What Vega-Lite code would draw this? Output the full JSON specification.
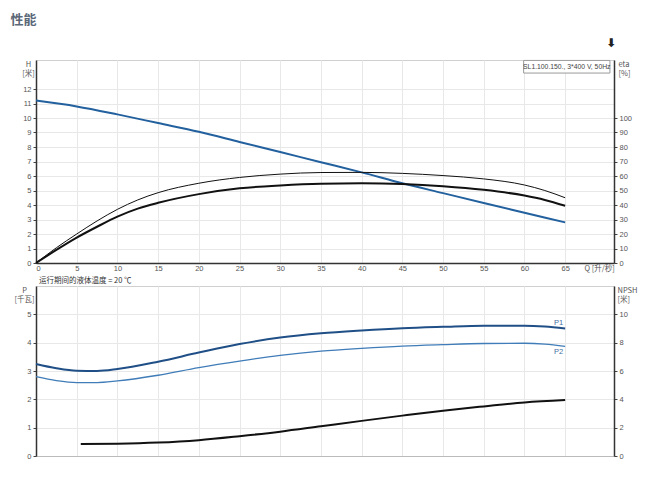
{
  "$schema": "https://vega.github.io/schema/vega-lite/v6.json",
  "background": "white",
  "padding": {"left": 10, "top": 14, "right": 5, "bottom": 5},
  "title": {"text": "性能", "anchor": "start", "dx": -3, "font": "Noto Sans CJK SC", "fontSize": 13, "fontWeight": "bold", "color": "#5b6878", "offset": 9},
  "spacing": 4,
  "config": {
    "view": {"stroke": "#d0d0d0", "strokeWidth": 1},
    "axis": {"labelFont": "Liberation Sans", "labelFontSize": 7.5, "labelColor": "#555", "tickColor": "#444", "domainColor": "#333", "domainWidth": 1.5, "gridColor": "#e8e8e8", "tickSize": 3, "labelPadding": 2, "titleFont": "Noto Sans CJK SC", "titleFontSize": 7.5, "titleFontWeight": "normal", "titleColor": "#555"}
  },
  "datasets": {
    "curves": [
      {"s": "H", "q": 0, "v": 11.2}, {"s": "H", "q": 5, "v": 10.8}, {"s": "H", "q": 10, "v": 10.25}, {"s": "H", "q": 15, "v": 9.65}, {"s": "H", "q": 20, "v": 9.05}, {"s": "H", "q": 25, "v": 8.35}, {"s": "H", "q": 30, "v": 7.65}, {"s": "H", "q": 35, "v": 6.95}, {"s": "H", "q": 40, "v": 6.25}, {"s": "H", "q": 45, "v": 5.5}, {"s": "H", "q": 50, "v": 4.82}, {"s": "H", "q": 55, "v": 4.14}, {"s": "H", "q": 60, "v": 3.47}, {"s": "H", "q": 65, "v": 2.8},
      {"s": "eta1", "q": 0, "v": 0}, {"s": "eta1", "q": 2.5, "v": 10.5}, {"s": "eta1", "q": 5, "v": 20}, {"s": "eta1", "q": 7.5, "v": 29}, {"s": "eta1", "q": 10, "v": 37}, {"s": "eta1", "q": 12.5, "v": 43.5}, {"s": "eta1", "q": 15, "v": 48.5}, {"s": "eta1", "q": 20, "v": 55}, {"s": "eta1", "q": 25, "v": 59}, {"s": "eta1", "q": 30, "v": 61.3}, {"s": "eta1", "q": 35, "v": 62.4}, {"s": "eta1", "q": 40, "v": 62.5}, {"s": "eta1", "q": 45, "v": 61.8}, {"s": "eta1", "q": 50, "v": 60.3}, {"s": "eta1", "q": 55, "v": 58}, {"s": "eta1", "q": 60, "v": 53.8}, {"s": "eta1", "q": 62.5, "v": 50}, {"s": "eta1", "q": 65, "v": 45},
      {"s": "eta2", "q": 0, "v": 0}, {"s": "eta2", "q": 2.5, "v": 9}, {"s": "eta2", "q": 5, "v": 17.5}, {"s": "eta2", "q": 7.5, "v": 25}, {"s": "eta2", "q": 10, "v": 32}, {"s": "eta2", "q": 12.5, "v": 37.5}, {"s": "eta2", "q": 15, "v": 41.5}, {"s": "eta2", "q": 20, "v": 47.5}, {"s": "eta2", "q": 25, "v": 51.5}, {"s": "eta2", "q": 30, "v": 53.5}, {"s": "eta2", "q": 35, "v": 54.7}, {"s": "eta2", "q": 40, "v": 55}, {"s": "eta2", "q": 45, "v": 54.5}, {"s": "eta2", "q": 50, "v": 53}, {"s": "eta2", "q": 55, "v": 50.5}, {"s": "eta2", "q": 60, "v": 46.5}, {"s": "eta2", "q": 62.5, "v": 43.5}, {"s": "eta2", "q": 65, "v": 39.5},
      {"s": "P1", "q": 0, "v": 3.25}, {"s": "P1", "q": 2.5, "v": 3.1}, {"s": "P1", "q": 5, "v": 3.01}, {"s": "P1", "q": 7.5, "v": 3.0}, {"s": "P1", "q": 10, "v": 3.07}, {"s": "P1", "q": 15, "v": 3.33}, {"s": "P1", "q": 20, "v": 3.65}, {"s": "P1", "q": 25, "v": 3.95}, {"s": "P1", "q": 30, "v": 4.18}, {"s": "P1", "q": 35, "v": 4.33}, {"s": "P1", "q": 40, "v": 4.43}, {"s": "P1", "q": 45, "v": 4.51}, {"s": "P1", "q": 50, "v": 4.56}, {"s": "P1", "q": 55, "v": 4.6}, {"s": "P1", "q": 60, "v": 4.6}, {"s": "P1", "q": 62.5, "v": 4.57}, {"s": "P1", "q": 65, "v": 4.5},
      {"s": "P2", "q": 0, "v": 2.8}, {"s": "P2", "q": 2.5, "v": 2.66}, {"s": "P2", "q": 5, "v": 2.59}, {"s": "P2", "q": 7.5, "v": 2.59}, {"s": "P2", "q": 10, "v": 2.65}, {"s": "P2", "q": 15, "v": 2.85}, {"s": "P2", "q": 20, "v": 3.12}, {"s": "P2", "q": 25, "v": 3.35}, {"s": "P2", "q": 30, "v": 3.55}, {"s": "P2", "q": 35, "v": 3.7}, {"s": "P2", "q": 40, "v": 3.8}, {"s": "P2", "q": 45, "v": 3.88}, {"s": "P2", "q": 50, "v": 3.93}, {"s": "P2", "q": 55, "v": 3.97}, {"s": "P2", "q": 60, "v": 3.98}, {"s": "P2", "q": 62.5, "v": 3.95}, {"s": "P2", "q": 65, "v": 3.87},
      {"s": "NPSH", "q": 5.5, "v": 0.85}, {"s": "NPSH", "q": 10, "v": 0.87}, {"s": "NPSH", "q": 15, "v": 0.95}, {"s": "NPSH", "q": 20, "v": 1.12}, {"s": "NPSH", "q": 25, "v": 1.4}, {"s": "NPSH", "q": 30, "v": 1.72}, {"s": "NPSH", "q": 35, "v": 2.1}, {"s": "NPSH", "q": 40, "v": 2.48}, {"s": "NPSH", "q": 45, "v": 2.85}, {"s": "NPSH", "q": 50, "v": 3.2}, {"s": "NPSH", "q": 55, "v": 3.5}, {"s": "NPSH", "q": 60, "v": 3.78}, {"s": "NPSH", "q": 65, "v": 3.95}
    ]
  },
  "vconcat": [
    {
      "width": 578,
      "height": 203,
      "title": {"text": "⬇", "anchor": "end", "frame": "group", "fontSize": 12, "color": "#222", "font": "DejaVu Sans", "offset": 10, "dx": 2},
      "layer": [
        {
          "data": {"name": "curves"},
          "transform": [{"filter": "datum.s === 'H'"}],
          "mark": {"type": "line", "interpolate": "monotone", "color": "#22609e", "strokeWidth": 2},
          "encoding": {
            "x": {"field": "q", "type": "quantitative", "scale": {"domain": [0, 71], "nice": false}, "axis": {"values": [0,5,10,15,20,25,30,35,40,45,50,55,60,65], "grid": true, "ticks": false, "labelPadding": 1, "title": "Q [升/秒]", "titleX": 548, "titleY": 1, "titleAlign": "left", "titleBaseline": "top", "titleFont": "Noto Sans CJK SC"}},
            "y": {"field": "v", "type": "quantitative", "scale": {"domain": [0, 14], "nice": false}, "axis": {"values": [0,1,2,3,4,5,6,7,8,9,10,11,12], "grid": true, "title": ["H", "[米]"], "titleAngle": 0, "titleAlign": "center", "titleBaseline": "top", "titleX": -8, "titleY": 0, "titleLineHeight": 9.5}}
          }
        },
        {
          "data": {"name": "curves"},
          "transform": [{"filter": "datum.s === 'eta1' || datum.s === 'eta2'"}],
          "mark": {"type": "line", "interpolate": "monotone", "color": "#111"},
          "encoding": {
            "x": {"field": "q", "type": "quantitative"},
            "y": {"field": "v", "type": "quantitative", "scale": {"domain": [0, 140], "nice": false}, "axis": {"orient": "right", "values": [0,10,20,30,40,50,60,70,80,90,100], "grid": false, "title": ["eta", "[%]"], "titleAngle": 0, "titleAlign": "left", "titleBaseline": "top", "titleX": 4, "titleY": 0, "titleLineHeight": 9.5}},
            "strokeWidth": {"field": "s", "type": "nominal", "scale": {"domain": ["eta1", "eta2"], "range": [1, 2]}, "legend": null},
            "detail": {"field": "s"}
          }
        },
        {
          "data": {"values": [{"t": "SL1.100.150., 3*400 V, 50Hz"}]},
          "mark": {"type": "rect", "fill": "white", "stroke": "#9a9a9a", "strokeWidth": 1},
          "encoding": {
            "x": {"datum": 59.9, "type": "quantitative"},
            "x2": {"datum": 70.5},
            "y": {"datum": 13.97, "type": "quantitative", "scale": {"domain": [0, 14], "nice": false}, "axis": null},
            "y2": {"datum": 13.1}
          }
        },
        {
          "data": {"values": [{"t": "SL1.100.150., 3*400 V, 50Hz"}]},
          "mark": {"type": "text", "font": "Liberation Sans", "fontSize": 6.8, "color": "#444", "align": "center", "baseline": "middle"},
          "encoding": {
            "x": {"datum": 65.2, "type": "quantitative"},
            "y": {"datum": 13.55, "type": "quantitative", "scale": {"domain": [0, 14], "nice": false}, "axis": null},
            "text": {"field": "t"}
          }
        }
      ],
      "resolve": {"scale": {"y": "independent"}}
    },
    {
      "width": 578,
      "height": 170,
      "title": {"text": "运行期间的液体温度 = 20 ℃", "anchor": "start", "frame": "group", "font": "Noto Sans CJK SC", "fontSize": 7.5, "fontWeight": "normal", "color": "#333", "offset": 2, "dx": 3},
      "layer": [
        {
          "data": {"name": "curves"},
          "transform": [{"filter": "datum.s === 'P1' || datum.s === 'P2'"}],
          "mark": {"type": "line", "interpolate": "monotone"},
          "encoding": {
            "x": {"field": "q", "type": "quantitative", "scale": {"domain": [0, 71], "nice": false}, "axis": {"values": [0,5,10,15,20,25,30,35,40,45,50,55,60,65], "grid": true, "ticks": false, "labels": false, "title": null, "domainColor": "#bbb", "domainWidth": 1}},
            "y": {"field": "v", "type": "quantitative", "scale": {"domain": [0, 6], "nice": false}, "axis": {"values": [0,1,2,3,4,5], "grid": true, "title": ["P", "[千瓦]"], "titleAngle": 0, "titleAlign": "center", "titleBaseline": "top", "titleX": -12, "titleY": 0, "titleLineHeight": 9.5}},
            "color": {"field": "s", "type": "nominal", "scale": {"domain": ["P1", "P2"], "range": ["#1f4f86", "#3f7cb8"]}, "legend": null},
            "strokeWidth": {"field": "s", "type": "nominal", "scale": {"domain": ["P1", "P2"], "range": [2, 1.3]}, "legend": null}
          }
        },
        {
          "data": {"name": "curves"},
          "transform": [{"filter": "datum.s === 'NPSH'"}],
          "mark": {"type": "line", "interpolate": "monotone", "color": "#111", "strokeWidth": 2},
          "encoding": {
            "x": {"field": "q", "type": "quantitative"},
            "y": {"field": "v", "type": "quantitative", "scale": {"domain": [0, 12], "nice": false}, "axis": {"orient": "right", "values": [0,2,4,6,8,10], "grid": false, "title": ["NPSH", "[米]"], "titleAngle": 0, "titleAlign": "left", "titleBaseline": "top", "titleX": 3, "titleY": 0, "titleLineHeight": 9.5}}
          }
        },
        {
          "data": {"name": "curves"},
          "transform": [{"filter": "datum.s === 'P1' && datum.q === 65"}],
          "mark": {"type": "text", "font": "Liberation Sans", "fontSize": 7.5, "color": "#3f6f9f", "align": "right", "baseline": "bottom", "dx": -2, "dy": -2},
          "encoding": {
            "x": {"field": "q", "type": "quantitative"},
            "y": {"field": "v", "type": "quantitative", "scale": {"domain": [0, 6], "nice": false}, "axis": null},
            "text": {"field": "s"}
          }
        },
        {
          "data": {"name": "curves"},
          "transform": [{"filter": "datum.s === 'P2' && datum.q === 65"}],
          "mark": {"type": "text", "font": "Liberation Sans", "fontSize": 7.5, "color": "#3f6f9f", "align": "right", "baseline": "top", "dx": -2, "dy": 2},
          "encoding": {
            "x": {"field": "q", "type": "quantitative"},
            "y": {"field": "v", "type": "quantitative", "scale": {"domain": [0, 6], "nice": false}, "axis": null},
            "text": {"field": "s"}
          }
        }
      ],
      "resolve": {"scale": {"y": "independent", "color": "independent", "strokeWidth": "independent"}}
    }
  ]
}
